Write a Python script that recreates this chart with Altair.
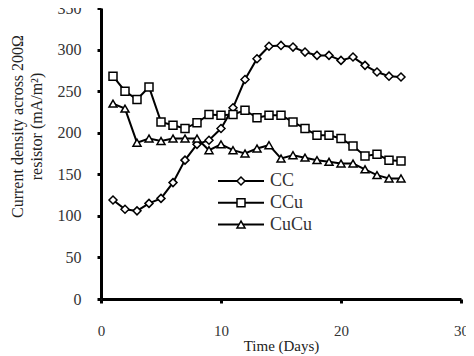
import altair as alt
import pandas as pd

days = list(range(1, 26))
series_names = ["CC", "CCu", "CuCu"]
cc = [119, 108, 106, 115, 121, 140, 167, 186, 191, 205, 230, 264, 289, 304, 305,
      303, 297, 293, 293, 287, 291, 281, 273, 268, 267]
ccu = [268, 250, 240, 255, 213, 209, 205, 212, 222, 221, 222, 227, 218, 221, 221,
       213, 205, 197, 197, 193, 184, 172, 174, 167, 166]
cucu = [235, 229, 188, 193, 190, 193, 193, 193, 179, 186, 179, 175, 181, 185, 169,
        173, 170, 167, 165, 163, 163, 156, 149, 145, 145]
x_ticks = [0, 10, 20, 30]
y_ticks = [0, 50, 100, 150, 200, 250, 300, 350]
x_domain = [0, 30]
y_domain = [0, 350]

rows = []
for name, vals in zip(series_names, [cc, ccu, cucu]):
    for d, v in zip(days, vals):
        rows.append({"day": d, "value": v, "series": name})
df = pd.DataFrame(rows)
legend_df = pd.DataFrame({"series": series_names})

FONT = "Liberation Serif"
W, H = 360, 291
shape_scale = alt.Scale(domain=series_names, range=["diamond", "square", "triangle-up"])

x_enc = alt.X("day:Q", scale=alt.Scale(domain=x_domain, nice=False),
              axis=alt.Axis(values=x_ticks, title="Time (Days)", grid=False,
                            domain=True, ticks=True, domainColor="black", domainWidth=3,
                            tickColor="black", tickWidth=3, tickSize=4,
                            labelFont=FONT, labelFontSize=15, labelColor="#333",
                            labelPadding=20, labelFlush=False,
                            titleFont=FONT, titleFontSize=15, titleFontWeight="normal",
                            titleColor="#222", titlePadding=0))
y_enc = alt.Y("value:Q", scale=alt.Scale(domain=y_domain, nice=False),
              axis=alt.Axis(values=y_ticks,
                            title=["Current density across 200\u03a9", "resistor (mA/m\u00b2)"],
                            grid=False, domain=True, ticks=True, domainColor="black",
                            domainWidth=3, tickColor="black", tickWidth=3, tickSize=4,
                            labelFont=FONT, labelFontSize=16, labelColor="#333",
                            labelPadding=16, labelFlush=False,
                            titleFont=FONT, titleFontSize=16, titleFontWeight="normal",
                            titleColor="#222", titleAngle=-90, titleAlign="center",
                            titleBaseline="middle", titleX=-84, titleY=118,
                            titleLineHeight=19))

base = alt.Chart(df).encode(x=x_enc, y=y_enc)

lines = base.mark_line(color="black", strokeWidth=2).encode(detail="series:N")
points = base.mark_point(filled=True, fill="white", stroke="black", strokeWidth=1.5,
                         size=64, opacity=1).encode(
    shape=alt.Shape("series:N", scale=shape_scale, legend=None)
)

main = alt.layer(lines, points)

leg_y = alt.Y("series:N", axis=None,
              scale=alt.Scale(type="point", domain=series_names, range=[173, 216.5], padding=0))
leg_base = alt.Chart(legend_df).encode(y=leg_y)
leg_rule = leg_base.mark_rule(color="black", strokeWidth=2).encode(
    x=alt.value(117), x2=alt.value(163))
leg_pts = leg_base.mark_point(filled=True, fill="white", stroke="black", strokeWidth=1.5,
                              size=64, opacity=1).encode(
    x=alt.value(140),
    shape=alt.Shape("series:N", scale=shape_scale, legend=None))
leg_txt = leg_base.mark_text(align="left", baseline="middle", font=FONT, fontSize=18,
                             color="#333").encode(x=alt.value(169), text="series:N")
legend = alt.layer(leg_rule, leg_pts, leg_txt)

chart = alt.layer(main, legend).resolve_scale(y="independent").properties(
    width=W, height=H,
    autosize=alt.AutoSizeParams(type="none"),
    padding={"left": 93, "top": 0, "right": 5, "bottom": 57},
    background="white",
).configure_view(strokeWidth=0)

chart.save("out.html", embed_options={"renderer": "svg", "actions": False})
